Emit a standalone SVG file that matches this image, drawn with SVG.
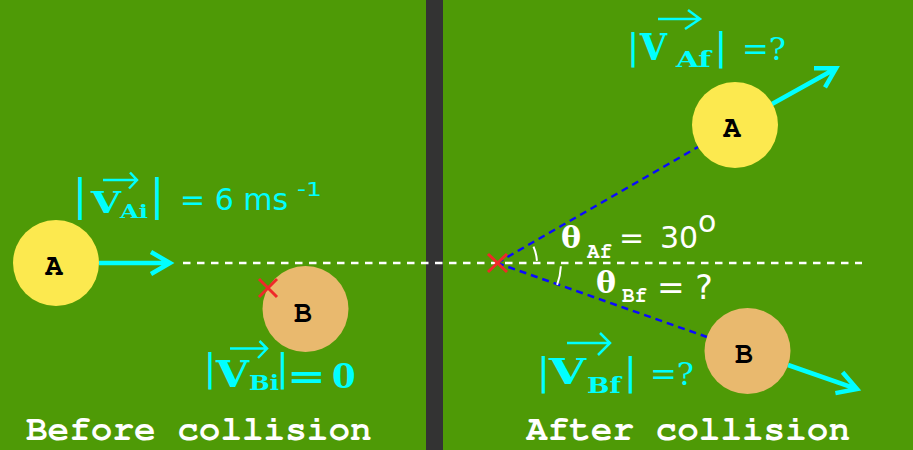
<svg xmlns="http://www.w3.org/2000/svg" width="913" height="450" viewBox="0 0 913 450">
  <style>
    .ballA { fill: #fce94f; }
    .ballB { fill: #e9b96e; }
    .lbl { font-family: "Nimbus Mono PS", "Nimbus Mono L", "FreeMono", "Courier", "Liberation Mono", monospace; font-weight: bold; font-size: 30px; fill: #000; text-anchor: middle; }
    .cap { font-family: "Nimbus Mono PS", "Nimbus Mono L", "FreeMono", "Courier", "Liberation Mono", monospace; font-weight: bold; font-size: 36px; fill: #fff; }
    .cy { fill: #00ffff; }
    .wh { fill: #ffffff; }
    .bar { font-family: "DejaVu Sans", sans-serif; text-anchor: middle; }
    .vb { font-family: "DejaVu Serif", serif; font-weight: bold; }
    .sr { font-family: "DejaVu Serif", serif; }
    .ss { font-family: "DejaVu Sans", sans-serif; }
    .mb { font-family: "Nimbus Mono PS", "Nimbus Mono L", "FreeMono", "Courier", "Liberation Mono", monospace; font-weight: bold; }
    .vel { fill: none; stroke: #00ffff; stroke-width: 4.5; stroke-linecap: butt; stroke-linejoin: miter; }
    .vec { fill: none; stroke: #00ffff; stroke-width: 2.5; }
    .path { fill: none; stroke: #0a0aff; stroke-width: 2.5; stroke-dasharray: 7 5; }
    .axis { fill: none; stroke: #ffffff; stroke-width: 2.5; stroke-dasharray: 7.5 6.5; }
    .hit { fill: none; stroke: #ef2929; stroke-width: 3; }
    .ang { fill: none; stroke: #ffffff; stroke-width: 2; }
  </style>
  <rect x="0" y="0" width="913" height="450" fill="#4e9a06"/>
  <rect id="divider" x="426" y="0" width="17" height="450" fill="#333333"/>

  <g id="connectors">
    <path class="axis" d="M183,263 H862"/>
    <path class="path" d="M497,263 L698,147"/>
    <path class="path" d="M497,263 L707,337"/>
    <path class="vel" d="M99,263 H169 M151,252 L170,263 L151,274"/>
    <path class="vel" d="M772,104 L834,69.5 M814,68.3 L836,68.3 L825,87.3"/>
    <path class="vel" d="M788,365 L855,388.3 M842.6,372.3 L857,389 L835.4,393.1"/>
    <path class="ang" d="M536.9,260.9 A40,40 0 0 0 533.5,246.7"/>
    <path class="ang" d="M560.9,266.3 A64,64 0 0 1 557.1,284.9"/>
  </g>

  <g id="ballA-before">
    <circle class="ballA" cx="56" cy="263" r="43"/>
    <text class="lbl" x="54" y="275">A</text>
  </g>
  <g id="ballB-before">
    <circle class="ballB" cx="305.5" cy="309" r="43"/>
    <text class="lbl" x="303" y="322">B</text>
  </g>
  <g id="ballA-after">
    <circle class="ballA" cx="735" cy="125" r="43"/>
    <text class="lbl" x="732" y="137">A</text>
  </g>
  <g id="ballB-after">
    <circle class="ballB" cx="747.5" cy="351" r="43"/>
    <text class="lbl" x="744" y="363">B</text>
  </g>

  <g id="impact-marks">
    <path class="hit" d="M259,279 L277,297 M277,279 L259,297"/>
    <path class="hit" d="M488,254 L507,272 M507,254 L488,272"/>
  </g>

  <g id="label-vAi" class="cy">
    <text class="bar" x="80" y="210" font-size="42">|</text>
    <text class="vb" x="91" y="213" font-size="29" textLength="30" lengthAdjust="spacingAndGlyphs">V</text>
    <text class="vb" x="120" y="218" font-size="18" textLength="28" lengthAdjust="spacingAndGlyphs">Ai</text>
    <text class="bar" x="157" y="210" font-size="42">|</text>
    <text class="ss" x="180" y="210" font-size="30">= 6 ms</text>
    <text class="ss" x="297" y="196" font-size="19" textLength="25" lengthAdjust="spacingAndGlyphs">-1</text>
    <path class="vec" d="M103,180 H136 M130,172.5 L137,180 L129,188.5"/>
  </g>

  <g id="label-vBi" class="cy">
    <text class="bar" x="210" y="381" font-size="37">|</text>
    <text class="vb" x="216" y="387" font-size="37" textLength="33" lengthAdjust="spacingAndGlyphs">V</text>
    <text class="vb" x="249" y="390" font-size="21" textLength="30" lengthAdjust="spacingAndGlyphs">Bi</text>
    <text class="bar" x="282.5" y="381" font-size="37">|</text>
    <text class="vb" x="287" y="388" font-size="34" textLength="39" lengthAdjust="spacingAndGlyphs">=</text>
    <text class="vb" x="332" y="388" font-size="34">0</text>
    <path class="vec" d="M230,348.5 H266 M259.5,341 L267,348.5 L258,358"/>
  </g>

  <g id="label-vAf" class="cy">
    <text class="bar" x="633" y="59" font-size="36">|</text>
    <text class="vb" x="640" y="60" font-size="38" textLength="27" lengthAdjust="spacingAndGlyphs">V</text>
    <text class="vb" x="676" y="67" font-size="23" textLength="35" lengthAdjust="spacingAndGlyphs">Af</text>
    <text class="bar" x="721" y="59" font-size="38">|</text>
    <text class="sr" x="742" y="60" font-size="32">=?</text>
    <path class="vec" d="M658,19 H699 M688,10 L700,19 L685,29"/>
  </g>

  <g id="label-vBf" class="cy">
    <text class="bar" x="543.5" y="384" font-size="38">|</text>
    <text class="vb" x="549" y="384" font-size="35" textLength="37" lengthAdjust="spacingAndGlyphs">V</text>
    <text class="vb" x="587" y="393" font-size="23" textLength="34" lengthAdjust="spacingAndGlyphs">Bf</text>
    <text class="bar" x="630.5" y="384" font-size="38">|</text>
    <text class="sr" x="650" y="385" font-size="32">=?</text>
    <path class="vec" d="M567,343 H609 M600,333 L610,343 L598,355"/>
  </g>

  <g id="label-thetaAf" class="wh">
    <text class="vb" x="561" y="248" font-size="30">θ</text>
    <text class="mb" x="587" y="258" font-size="21">Af</text>
    <text class="ss" x="619" y="248" font-size="30">=</text>
    <text class="ss" x="660" y="248" font-size="30">30</text>
    <text class="ss" x="698" y="232" font-size="30">o</text>
  </g>

  <g id="label-thetaBf" class="wh">
    <text class="vb" x="596" y="293" font-size="30">θ</text>
    <text class="mb" x="622" y="302" font-size="21">Bf</text>
    <text class="ss" x="657" y="299" font-size="33">= ?</text>
  </g>

  <g id="captions">
    <text class="cap" x="26" y="440">Before collision</text>
    <text class="cap" x="526" y="440">After collision</text>
  </g>
</svg>
